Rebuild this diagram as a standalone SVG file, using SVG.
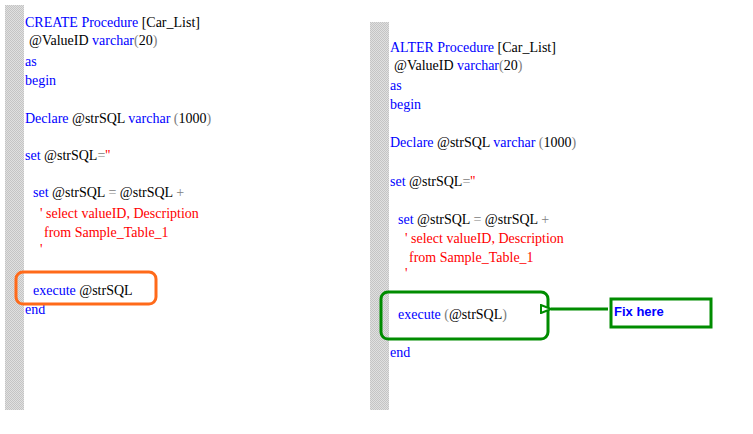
<svg xmlns="http://www.w3.org/2000/svg" width="753" height="434" viewBox="0 0 753 434">
<defs>
<pattern id="dots" width="2" height="2" patternUnits="userSpaceOnUse"><rect width="2" height="2" fill="#e0e0e0"/><rect width="1" height="1" fill="#c4c4c4"/><rect x="1" y="1" width="1" height="1" fill="#c4c4c4"/></pattern>
<marker id="ah" markerWidth="12" markerHeight="10" refX="1" refY="5" orient="auto" markerUnits="userSpaceOnUse"><path d="M11,1 L1,5 L11,9 Z" fill="#fff" stroke="#008c00" stroke-width="2"/></marker>
</defs>
<style>
text{font-family:"Liberation Serif","Times New Roman",serif;font-size:14px;fill:#000}
.k{fill:#0000ff}.g{fill:#808080}.r{fill:#ff0000}
.fix{font-family:"Liberation Sans",Arial,sans-serif;font-weight:bold;font-size:13px;fill:#0000ff}
</style>
<rect width="753" height="434" fill="#fff"/>
<g id="left">
<rect x="5" y="5" width="19" height="405" fill="url(#dots)"/>
<text x="25" y="27"><tspan class="k">CREATE Procedure</tspan> [Car_List]</text>
<text x="25" y="45"> <tspan x="29">@ValueID</tspan> <tspan class="k">varchar</tspan><tspan class="g">(</tspan>20<tspan class="g">)</tspan></text>
<text x="25" y="66" class="k">as</text>
<text x="25" y="85" class="k">begin</text>
<text x="25" y="123"><tspan class="k">Declare</tspan> @strSQL <tspan class="k">varchar</tspan> <tspan class="g">(</tspan>1000<tspan class="g">)</tspan></text>
<text x="25" y="160"><tspan class="k">set</tspan> @strSQL<tspan class="g">=</tspan><tspan class="r">''</tspan></text>
<text x="33" y="197"><tspan class="k">set</tspan> @strSQL <tspan class="g">=</tspan> @strSQL <tspan class="g">+</tspan></text>
<text x="40" y="218" class="r">' select valueID, Description</text>
<text x="44" y="237" class="r">from Sample_Table_1</text>
<text x="40" y="254" class="r">'</text>
<text x="33" y="295"><tspan class="k">execute</tspan> @strSQL</text>
<text x="25" y="314" class="k">end</text>
<rect id="orange" x="16" y="272" width="140" height="32" rx="7" fill="none" stroke="#ff6a1a" stroke-width="3"/>
</g>
<g id="right">
<rect x="370" y="22" width="19" height="388" fill="url(#dots)"/>
<text x="390" y="52"><tspan class="k">ALTER Procedure</tspan> [Car_List]</text>
<text x="394" y="70">@ValueID <tspan class="k">varchar</tspan><tspan class="g">(</tspan>20<tspan class="g">)</tspan></text>
<text x="390" y="90" class="k">as</text>
<text x="390" y="109" class="k">begin</text>
<text x="390" y="147"><tspan class="k">Declare</tspan> @strSQL <tspan class="k">varchar</tspan> <tspan class="g">(</tspan>1000<tspan class="g">)</tspan></text>
<text x="390" y="186"><tspan class="k">set</tspan> @strSQL<tspan class="g">=</tspan><tspan class="r">''</tspan></text>
<text x="398" y="224"><tspan class="k">set</tspan> @strSQL <tspan class="g">=</tspan> @strSQL <tspan class="g">+</tspan></text>
<text x="405" y="243" class="r">' select valueID, Description</text>
<text x="409" y="262" class="r">from Sample_Table_1</text>
<text x="405" y="278" class="r">'</text>
<text x="398" y="319"><tspan class="k">execute</tspan> <tspan class="g">(</tspan>@strSQL<tspan class="g">)</tspan></text>
<text x="390" y="357" class="k">end</text>
<rect id="green" x="381" y="292" width="167" height="47" rx="7" fill="none" stroke="#008c00" stroke-width="3"/>
</g>
<g id="note">
<rect x="611" y="299" width="100" height="28" fill="none" stroke="#008c00" stroke-width="3"/>
<text x="614" y="316" class="fix">Fix here</text>
</g>
<g id="connectors">
<line x1="608" y1="309" x2="551" y2="309" stroke="#008c00" stroke-width="3" marker-end="url(#ah)"/>
</g>
</svg>
